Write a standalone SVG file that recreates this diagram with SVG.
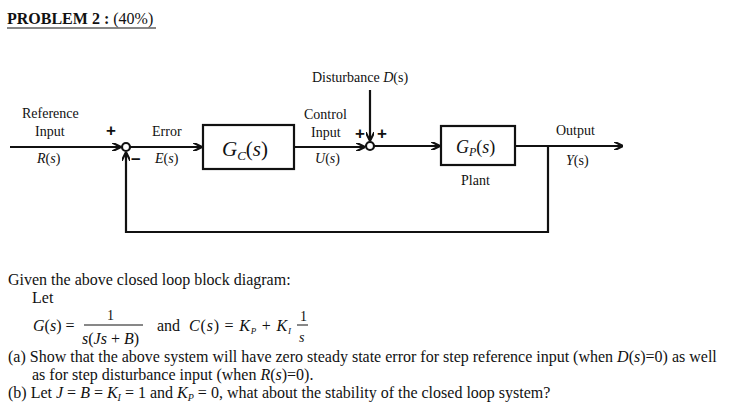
<svg xmlns="http://www.w3.org/2000/svg" width="733" height="415" viewBox="0 0 733 415">
<style>
text{font-family:"Liberation Serif","Times New Roman",serif;fill:#111}
.l{font-size:14px}
.t{font-size:16px}
.p{font-family:"Liberation Sans",Arial,sans-serif;font-size:17px;font-weight:bold}
.w{stroke:#111;stroke-width:2.2;fill:none}
.b{stroke:#111;stroke-width:2.2;fill:#fff}
</style>
<defs><marker id="a" viewBox="0 0 10 10" refX="9" refY="5" markerWidth="4" markerHeight="4" orient="auto"><path d="M0,0L10,5L0,10" fill="none" stroke="#111" stroke-width="2.5"/></marker></defs>
<rect width="733" height="415" fill="#fff"/>
<text x="7" y="24" class="t"><tspan font-weight="bold">PROBLEM 2 :</tspan> (40%)</text>
<line x1="7" y1="28" x2="156" y2="28" stroke="#111" stroke-width="1.2"/>
<g id="connectors">
<path class="w" d="M10,147H120" marker-end="url(#a)"/>
<path class="w" d="M130,147H201" marker-end="url(#a)"/>
<path class="w" d="M295,147H364" marker-end="url(#a)"/>
<path class="w" d="M370,90V140" marker-end="url(#a)"/>
<path class="w" d="M374,146H439" marker-end="url(#a)"/>
<path class="w" d="M515,146H622" marker-end="url(#a)"/>
<path class="w" d="M548,146V232H126V153" marker-end="url(#a)"/>
</g>
<g id="sum1"><circle cx="126" cy="147" r="4" class="b"/>
<text x="106" y="136" class="p">+</text><text x="131" y="164" class="p">–</text></g>
<g id="sum2"><circle cx="370" cy="146" r="4" class="b"/>
<text x="355" y="139" class="p">+</text><text x="377" y="139" class="p">+</text></g>
<g id="gc"><rect x="203" y="125" width="91" height="44" class="b"/>
<text x="222" y="156" font-size="21"><tspan font-style="italic">G</tspan><tspan font-size="13" dy="4" font-style="italic">C</tspan><tspan dy="-4">(</tspan><tspan font-style="italic">s</tspan>)</text></g>
<g id="gp"><rect x="441" y="126" width="74" height="39" class="b"/>
<text x="456" y="153" font-size="18"><tspan font-style="italic">G</tspan><tspan font-size="12" dy="3" font-style="italic">P</tspan><tspan dy="-3">(</tspan><tspan font-style="italic">s</tspan>)</text>
<text x="461" y="185" class="l">Plant</text></g>
<g id="labels">
<text x="22" y="118" class="l">Reference</text><text x="35" y="136" class="l">Input</text>
<text x="37" y="163" class="l"><tspan font-style="italic">R</tspan>(<tspan font-style="italic">s</tspan>)</text>
<text x="152" y="136" class="l">Error</text>
<text x="155" y="163" class="l"><tspan font-style="italic">E</tspan>(<tspan font-style="italic">s</tspan>)</text>
<text x="304" y="119" class="l">Control</text><text x="311" y="137" class="l">Input</text>
<text x="315" y="163" class="l"><tspan font-style="italic">U</tspan>(<tspan font-style="italic">s</tspan>)</text>
<text x="312" y="82" class="l">Disturbance  <tspan font-style="italic">D</tspan>(s)</text>
<text x="556" y="135" class="l">Output</text>
<text x="566" y="165" class="l"><tspan font-style="italic">Y</tspan>(s)</text>
</g>
<g id="text">
<text x="8" y="285" class="t">Given the above closed loop block diagram:</text>
<text x="32" y="303" class="t">Let</text>
<text x="33" y="331" class="t"><tspan font-style="italic">G</tspan>(<tspan font-style="italic">s</tspan>) =</text>
<text x="107" y="320" class="l">1</text>
<line x1="84" y1="325" x2="143" y2="325" stroke="#111"/>
<text x="82" y="344" class="t"><tspan font-style="italic">s</tspan>(<tspan font-style="italic">Js</tspan> + <tspan font-style="italic">B</tspan>)</text>
<text x="157" y="331" class="t">and</text>
<text x="189" y="331" class="t" letter-spacing="0.8"><tspan font-style="italic">C</tspan>(<tspan font-style="italic">s</tspan>) = <tspan font-style="italic">K</tspan><tspan font-size="9" dy="3" font-style="italic">P</tspan><tspan dy="-3"> + </tspan><tspan font-style="italic">K</tspan><tspan font-size="9" dy="3" font-style="italic">I</tspan></text>
<text x="300" y="321" class="l">1</text>
<line x1="297" y1="325" x2="308" y2="325" stroke="#111"/>
<text x="299" y="342" class="l" font-style="italic">s</text>
<text x="8" y="362" class="t">(a) Show that the above system will have zero steady state error for step reference input (when <tspan font-style="italic">D</tspan>(<tspan font-style="italic">s</tspan>)=0) as well</text>
<text x="32" y="380" class="t">as for step disturbance input (when <tspan font-style="italic">R</tspan>(<tspan font-style="italic">s</tspan>)=0).</text>
<text x="8" y="398" class="t">(b) Let <tspan font-style="italic">J</tspan> = <tspan font-style="italic">B</tspan> = <tspan font-style="italic">K</tspan><tspan font-size="10" dy="3" font-style="italic">I</tspan><tspan dy="-3"> = 1 and </tspan><tspan font-style="italic">K</tspan><tspan font-size="10" dy="3" font-style="italic">P</tspan><tspan dy="-3"> = 0, what about the stability of the closed loop system?</tspan></text>
</g>
</svg>
